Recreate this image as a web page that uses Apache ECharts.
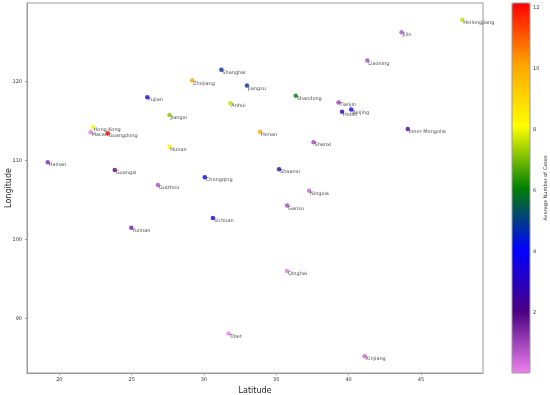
<!DOCTYPE html>
<html>
<head>
<meta charset="utf-8">
<script src="https://cdn.jsdelivr.net/npm/echarts@6/dist/echarts.min.js"></script>
<style>html,body{margin:0;padding:0;background:#fff;}#c{width:550px;height:395px;}</style>
</head>
<body>
<div id="c"></div>
<script>
var provinces = ['Anhui','Beijing','Chongqing','Fujian','Gansu','Guangdong','Guangxi','Guizhou','Hainan','Hebei','Heilongjiang','Henan','Hong Kong','Hunan','Inner Mongolia','Jiangsu','Jiangxi','Jilin','Liaoning','Macau','Ningxia','Qinghai','Shaanxi','Shandong','Shanghai','Shanxi','Sichuan','Tianjin','Tibet','Xinjiang','Yunnan','Zhejiang'];
var latitude = [31.8257, 40.1824, 30.0572, 26.0789, 35.7518, 23.3417, 23.8298, 26.8154, 19.1959, 39.549, 47.862, 33.882, 22.3, 27.6104, 44.0935, 32.9711, 27.614, 43.6661, 41.2956, 22.1667, 37.2692, 35.7452, 35.1917, 36.3427, 31.202, 37.5777, 30.6171, 39.3054, 31.6927, 41.1129, 24.974, 29.1832];
var longitude = [117.2264, 116.4142, 107.874, 117.9874, 104.2861, 113.4244, 108.7881, 106.8748, 109.7453, 116.1306, 127.7615, 113.614, 114.2, 111.7088, 113.9448, 119.455, 115.7221, 126.1923, 122.6085, 113.55, 106.1655, 95.9956, 108.8701, 118.1498, 121.4491, 112.2922, 102.7103, 117.323, 88.0924, 85.2401, 101.487, 120.0934];
var avgCases = [7.6, 3.8, 3.9, 3.3, 1.0, 12.16, 1.9, 0.9, 1.4, 3.0, 7.6, 10.0, 8.2, 8.4, 2.0, 4.8, 7.2, 0.8, 0.9, 0.2, 0.5, 0.2, 2.6, 6.0, 4.8, 1.0, 3.8, 1.1, 0.03, 0.5, 1.6, 10.2];
var colorStops = ['#EE82EE', '#4B0082', '#0000FF', '#008000', '#FFFF00', '#FFA500', '#FF0000'];

var data = provinces.map(function (p, i) { return [latitude[i], longitude[i], avgCases[i], p]; });
var latMin = Math.min.apply(null, latitude), latMax = Math.max.apply(null, latitude);
var lonMin = Math.min.apply(null, longitude), lonMax = Math.max.apply(null, longitude);
var cMin = Math.min.apply(null, avgCases), cMax = Math.max.apply(null, avgCases);
var xPad = (latMax - latMin) * 0.05, yPad = (lonMax - lonMin) * 0.05;

var FONT = 'DejaVu Sans';
var axisCol = '#999';
var txtCol = '#333';

var chart = echarts.init(document.getElementById('c'), null, {renderer: 'canvas'});
chart.setOption({
  animation: false,
  backgroundColor: '#fff',
  textStyle: {fontFamily: FONT},
  grid: [
    {left: 27, top: 3, width: 456, height: 370, show: true, borderColor: axisCol, borderWidth: 1, backgroundColor: 'transparent', z: 1, containLabel: false, outerBoundsMode: 'none'},
    {left: 512, top: 3, width: 18, height: 370, show: true, borderColor: axisCol, borderWidth: 1, backgroundColor: 'transparent', z: 10, containLabel: false, outerBoundsMode: 'none'}
  ],
  xAxis: [
    {type: 'value', gridIndex: 0, min: latMin - xPad, max: latMax + xPad, splitNumber: 6,
     name: 'Latitude', nameLocation: 'middle', nameGap: 12,
     nameTextStyle: {fontSize: 8, color: '#222', fontFamily: FONT},
     axisLine: {show: true, lineStyle: {color: axisCol}},
     axisTick: {show: true, length: 2, lineStyle: {color: axisCol}},
     axisLabel: {fontSize: 5, color: txtCol, margin: 4, showMinLabel: false, showMaxLabel: false, fontFamily: FONT},
     splitLine: {show: false}},
    {type: 'value', gridIndex: 1, min: 0, max: 1, show: false}
  ],
  yAxis: [
    {type: 'value', gridIndex: 0, min: lonMin - yPad, max: lonMax + yPad, splitNumber: 5,
     name: 'Longitude', nameLocation: 'middle', nameGap: 18, nameRotate: 90, nameMoveOverlap: false,
     nameTextStyle: {fontSize: 8, color: '#222', fontFamily: FONT, verticalAlign: 'middle'},
     axisLine: {show: true, lineStyle: {color: axisCol}},
     axisTick: {show: true, length: 2, lineStyle: {color: axisCol}},
     axisLabel: {fontSize: 5, color: txtCol, margin: 5, showMinLabel: false, showMaxLabel: false, fontFamily: FONT},
     splitLine: {show: false}},
    {type: 'value', gridIndex: 1, position: 'right', min: cMin, max: cMax, splitNumber: 6,
     name: 'Average Number of Cases', nameLocation: 'middle', nameGap: 12, nameRotate: 90,
     nameTextStyle: {fontSize: 5, color: txtCol, fontFamily: FONT},
     axisLine: {show: false},
     axisTick: {show: true, length: 2, lineStyle: {color: axisCol}},
     axisLabel: {fontSize: 5, color: txtCol, margin: 3, showMinLabel: false, showMaxLabel: false, fontFamily: FONT},
     splitLine: {show: false}}
  ],
  visualMap: {
    type: 'continuous', seriesIndex: 0, dimension: 2, min: cMin, max: cMax,
    calculable: false, realtime: false, hoverLink: false,
    left: 512, top: 3, itemWidth: 18, itemHeight: 370, padding: 0,
    inRange: {color: colorStops}, z: 5
  },
  series: [{
    type: 'scatter', xAxisIndex: 0, yAxisIndex: 0, data: data, symbolSize: 4.5,
    label: {show: true, formatter: function (p) { return p.value[3]; },
      position: [3.2, 5], align: 'left', verticalAlign: 'middle',
      fontSize: 5, color: '#222', fontFamily: FONT},
    labelLayout: {hideOverlap: false}
  }]
});
</script>
</body>
</html>
